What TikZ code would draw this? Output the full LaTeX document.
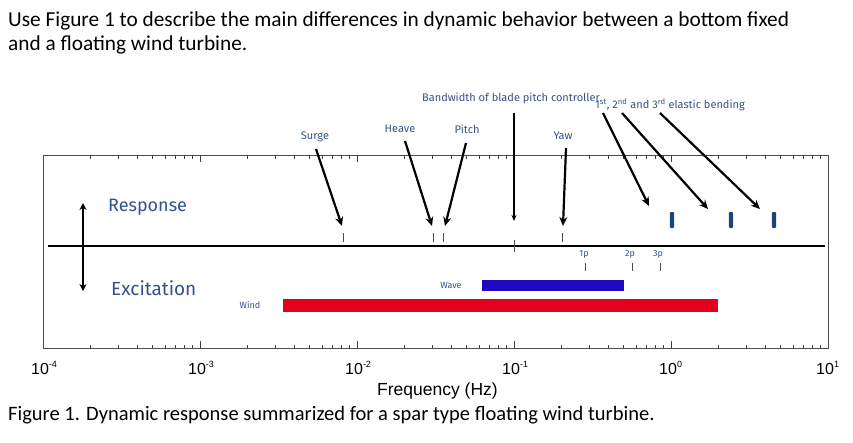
\documentclass[tikz,border=0pt]{standalone}
\usepackage{fontspec}
\setmainfont{Carlito}
\newfontfamily\lblfont{Fira Sans}
\newfontfamily\axfont{Liberation Sans}
\usetikzlibrary{arrows.meta}

\definecolor{lblblue}{RGB}{52,82,138}
\definecolor{windred}{RGB}{227,0,30}
\definecolor{waveblue}{RGB}{32,8,196}
\definecolor{elastblue}{RGB}{30,68,118}

\tikzset{
    lbl/.style={text=lblblue, inner sep=0pt, font=\lblfont\fontsize{11}{12}\selectfont},
    smalllbl/.style={text=lblblue, inner sep=0pt, font=\lblfont\fontsize{9}{10}\selectfont},
    biglbl/.style={text=lblblue, inner sep=0pt, anchor=base west, font=\lblfont\fontsize{18}{20}\selectfont},
    ticklbl/.style={inner sep=0pt, anchor=base west, font=\axfont\fontsize{16}{17}\selectfont},
    textline/.style={inner sep=0pt, anchor=base west, font=\fontsize{20.5}{24}\selectfont},
    fatarrow/.style={line width=2.2pt, -{Stealth[length=9pt,width=8pt]}},
    thinarrow/.style={line width=1.3pt, -{Stealth[length=6pt,width=5pt]}},
    axtick/.style={line width=0.7pt, draw=black!75},
    modemark/.style={line width=0.8pt, draw=black!70},
}

\begin{document}
\begin{tikzpicture}[x=1pt,y=-1pt]
    \useasboundingbox (0,0) rectangle (853,442);

    % question and caption
    \node[textline, font=\fontsize{21.3}{24}\selectfont] (qline1) at (8,26)
        {Use Figure 1 to describe the main differences in dynamic behavior between a bottom fixed};
    \node[textline, font=\fontsize{21.3}{24}\selectfont] (qline2) at (8,50) {and a floating wind turbine.};
    \node[textline] (caption) at (8,420)
        {Figure 1. Dynamic response summarized for a spar type floating wind turbine.};

    % frame and log ticks
    \draw[line width=0.9pt, draw=black!70] (43,155) rectangle (828,348);
    \foreach \d in {0,...,4} {
        \foreach \k in {2,...,9} {
            \pgfmathsetmacro{\xt}{43+157*(\d+log10(\k))}
            \draw[axtick] (\xt,155) -- (\xt,158.5);
            \draw[axtick] (\xt,348) -- (\xt,344.5);
        }
    }
    \foreach \d in {1,...,4} {
        \draw[axtick] (43+157*\d,155) -- (43+157*\d,162);
        \draw[axtick] (43+157*\d,348) -- (43+157*\d,341);
    }

    % decade labels
    \foreach \e [count=\i from 0] in {-4,-3,-2,-1,0,1} {
        \node[ticklbl] (dec\i) at (31+157*\i,374)
            {10\raisebox{7pt}{\fontsize{9}{9}\selectfont\e}};
    }
    \node[ticklbl, font=\axfont\fontsize{17.5}{19}\selectfont] (freq) at (377,395) {Frequency (Hz)};

    % response / excitation divider
    \draw[line width=2.4pt] (48,246) -- (825,246);
    \coordinate (updown-top) at (83,203);
    \coordinate (updown-bot) at (83,291);
    \draw[line width=2pt, {Stealth[length=7pt,width=7pt]}-{Stealth[length=7pt,width=7pt]}] (updown-top) -- (updown-bot);
    \node[biglbl] (response) at (108,211) {Response};
    \node[biglbl, font=\lblfont\fontsize{19}{21}\selectfont] (excitation) at (111,295) {Excitation};

    % response marks on the line
    \foreach \xm in {343,433,443,562} {
        \draw[modemark] (\xm,233) -- (\xm,242);
    }
    \draw[modemark] (514,240) -- (514,252);

    % rotor harmonics
    \node[smalllbl] (p1) at (584,254) {1p};
    \node[smalllbl] (p2) at (630,254) {2p};
    \node[smalllbl] (p3) at (658,254) {3p};
    \draw[modemark] (585,263) -- (585,271);
    \draw[modemark] (632,263) -- (632,271);
    \draw[modemark] (660,263) -- (660,271);

    % excitation bands
    \node[smalllbl] (wave) at (451,285) {Wave};
    \node[smalllbl] (wind) at (250,305) {Wind};
    \fill[waveblue] (482,280) rectangle (624,291);
    \fill[windred] (283,299) rectangle (718,312);

    % rigid body modes
    \node[lbl] (surge) at (315,137) {Surge};
    \node[lbl] (heave) at (400,129) {Heave};
    \node[lbl] (pitch) at (467,129) {Pitch};
    \node[lbl] (yaw) at (563,136) {Yaw};
    \node[lbl] (bandwidth) at (511,98) {Bandwidth of blade pitch controller};
    \node[lbl, anchor=west] (elastic) at (595,105)
        {1\textsuperscript{st}, 2\textsuperscript{nd} and 3\textsuperscript{rd} elastic bending};

    \coordinate (surge-s) at (316,149);  \coordinate (surge-e) at (342,226);
    \coordinate (heave-s) at (405,141);  \coordinate (heave-e) at (432,226);
    \coordinate (pitch-s) at (466,143);  \coordinate (pitch-e) at (445,226);
    \coordinate (yaw-s) at (566,148);    \coordinate (yaw-e) at (563,226);
    \coordinate (band-s) at (514,113);   \coordinate (band-e) at (514,221);
    \coordinate (el1-s) at (603,113);    \coordinate (el1-e) at (649,206);
    \coordinate (el2-s) at (622,113);    \coordinate (el2-e) at (708,209);
    \coordinate (el3-s) at (660,113);    \coordinate (el3-e) at (760,209);

    \draw[fatarrow] (surge-s) -- (surge-e);
    \draw[fatarrow] (heave-s) -- (heave-e);
    \draw[fatarrow] (pitch-s) -- (pitch-e);
    \draw[fatarrow] (yaw-s) -- (yaw-e);
    \draw[thinarrow] (band-s) -- (band-e);
    \draw[fatarrow] (el1-s) -- (el1-e);
    \draw[fatarrow] (el2-s) -- (el2-e);
    \draw[fatarrow] (el3-s) -- (el3-e);

    % elastic bending modes
    \foreach \xm in {672,731,774} {
        \fill[elastblue, rounded corners=1pt] (\xm-2.2,212) rectangle (\xm+2.2,228);
    }
\end{tikzpicture}
\end{document}
